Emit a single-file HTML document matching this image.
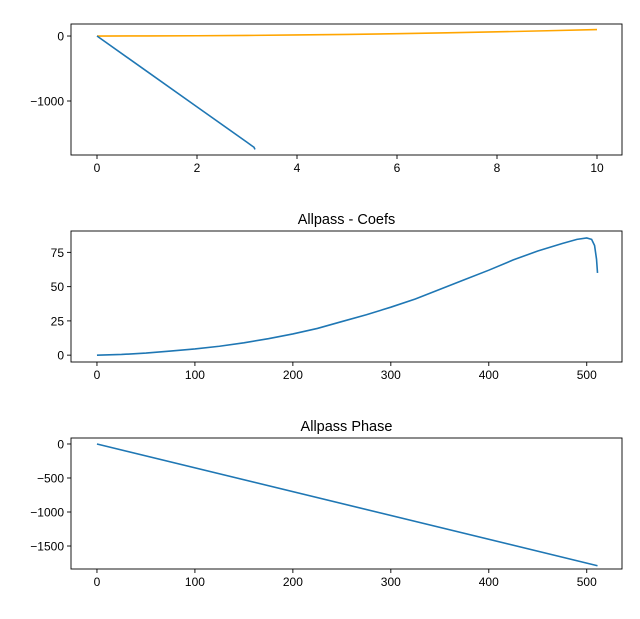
<!DOCTYPE html>
<html><head><meta charset="utf-8"><style>
body{margin:0;background:#fff;}
svg{display:block;font-family:"Liberation Sans","DejaVu Sans",sans-serif;}
</style></head><body>
<svg id="c" width="640" height="619" viewBox="0 0 640 619"></svg>
<script>
// Panel 1 data
const p1OrangeX=[0,1,2,3,4,5,6,7,8,9,10];
const p1OrangeY=[0,1,4,9,16,25,36,49,64,81,100];
const p1BlueX=[0,1,2,3,3.1,3.14,3.16];
const p1BlueY=[0,-545,-1090,-1635,-1690,-1712,-1745];
const p1XTicks=[0,2,4,6,8,10];
const p1YTicks=[0,-1000];
// Panel 2 data
const p2X=[0,25,50,75,100,125,150,175,200,225,250,275,300,325,350,375,400,425,450,475,490,500,505,508,510,511];
const p2Y=[0,0.5,1.5,3,4.5,6.5,9,12,15.5,19.5,24.5,29.5,35,41,48,55,62,69.5,76,81.5,84.5,85.5,84.5,80,70,60];
const p2XTicks=[0,100,200,300,400,500];
const p2YTicks=[0,25,50,75];
// Panel 3 data
const p3X=[0,511];
const p3Y=[0,-1790];
const p3XTicks=[0,100,200,300,400,500];
const p3YTicks=[0,-500,-1000,-1500];

const svg=document.getElementById('c');
const NS='http://www.w3.org/2000/svg';
function mk(tag,attrs){const e=document.createElementNS(NS,tag);for(const k in attrs)e.setAttribute(k,attrs[k]);svg.appendChild(e);return e;}

function panel(name,top,xmin,xmax,ymin,ymax,xt,yt,series,title){
  const L=71,R=622,T=top,B=top+131;
  const sx=v=>L+(v-xmin)/(xmax-xmin)*(R-L);
  const sy=v=>B-(v-ymin)/(ymax-ymin)*(B-T);
  if(title){const t=mk('text',{x:(L+R)/2,y:T-7,'text-anchor':'middle','font-size':'14.5',fill:'#000'});t.textContent=title;
    
    }
  series.forEach((s,i)=>{
    const d=s.x.map((v,j)=>(j?'L':'M')+sx(v).toFixed(2)+','+sy(s.y[j]).toFixed(2)).join('');
    const p=mk('path',{d:d,fill:'none',stroke:s.c,'stroke-width':'1.6'});
    
    
  });
  const fr=mk('rect',{x:L,y:T,width:R-L,height:B-T,fill:'none',stroke:'#000','stroke-width':'0.9'});
  
  
  xt.forEach(v=>{const x=sx(v);mk('line',{x1:x,x2:x,y1:B,y2:B+4,stroke:'#000','stroke-width':'0.9'});
    const t=mk('text',{x:x,y:B+17,'text-anchor':'middle','font-size':'12',fill:'#000'});t.textContent=v;
    
    });
  yt.forEach(v=>{const y=sy(v);mk('line',{x1:L-4,x2:L,y1:y,y2:y,stroke:'#000','stroke-width':'0.9'});
    const t=mk('text',{x:L-7,y:y+4.5,'text-anchor':'end','font-size':'12',fill:'#000'});t.textContent=v<0?'\u2212'+(-v):v;
    
    });
}
panel('top-panel',24,-0.52,10.5,-1831,185,p1XTicks,p1YTicks,
  [{x:p1OrangeX,y:p1OrangeY,c:'#ffa500',n:'orange-line'},{x:p1BlueX,y:p1BlueY,c:'#1f77b4',n:'blue-line'}],null);
panel('coefs-panel',231,-26.5,536,-5,90.6,p2XTicks,p2YTicks,[{x:p2X,y:p2Y,c:'#1f77b4',n:'coefs-line'}],'Allpass - Coefs');
panel('phase-panel',438,-26.5,536,-1838,88,p3XTicks,p3YTicks,[{x:p3X,y:p3Y,c:'#1f77b4',n:'phase-line'}],'Allpass Phase');
</script>
</body></html>
